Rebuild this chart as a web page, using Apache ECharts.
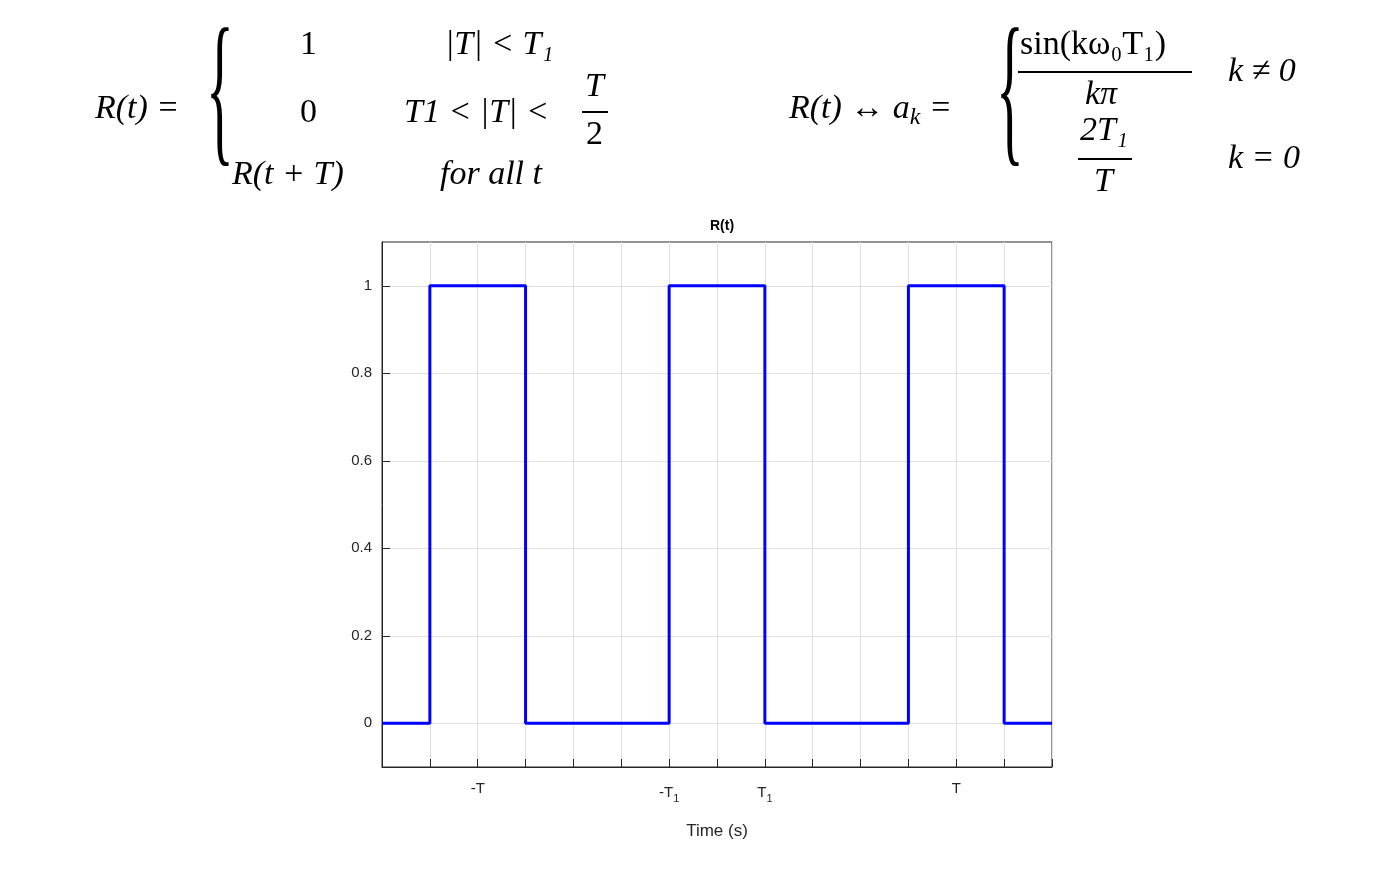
<!DOCTYPE html>
<html><head><meta charset="utf-8">
<script src="https://cdn.jsdelivr.net/npm/echarts@6/dist/echarts.min.js"></script>
<style>html,body{margin:0;background:#fff}#c{width:1388px;height:877px}</style></head>
<body><div id="c"></div>
<script>
const timeEdges=[-7,-6,-4,-1,1,4,6,7];
const levels=[0,1,0,1,0,1,0,0];
const tickLabels={'-5':'-T','-1':'-{t|T}{s|1}','1':'{t|T}{s|1}','5':'T'};
const yTicks=[0,0.2,0.4,0.6,0.8,1];
const chart=echarts.init(document.getElementById('c'));
const F='Liberation Serif';
function t(x,y,txt,size,style,align){return {type:'text',left:x,top:y,style:{text:txt,font:(style||'italic')+' '+(size||34)+'px "'+F+'"',fill:'#000',textAlign:align||'left'}};}
function brace(x){return {type:'text',x:x,y:16,scaleX:1,scaleY:2.9,style:{text:'{',font:'58px "'+F+'"',fill:'#000'}};}
chart.setOption({
animation:false,
title:{text:'R(t)',left:717,top:214,textAlign:'center',textStyle:{fontSize:14,fontWeight:'bold',color:'#000',fontFamily:'Arial'}},
grid:{left:382,top:242,width:670,height:525,show:true,borderColor:'#262626',borderWidth:1},
xAxis:{type:'value',min:-7,max:7,interval:1,name:'Time (s)',nameLocation:'middle',nameGap:56,
 nameTextStyle:{fontSize:17,color:'#262626',fontFamily:'Arial'},
 axisLine:{show:true,onZero:false,lineStyle:{color:'#262626'}},axisTick:{inside:true,length:8,lineStyle:{color:'#262626'}},
 splitLine:{show:true,lineStyle:{color:'#dfdfdf'}},
 axisLabel:{margin:14,color:'#262626',fontSize:15,fontFamily:'Arial',formatter:v=>tickLabels[String(v)]||'',
  rich:{t:{fontSize:15,color:'#262626',fontFamily:'Arial'},s:{fontSize:11,color:'#262626',verticalAlign:'bottom',padding:[12,0,0,0],fontFamily:'Arial'}}}},
yAxis:{type:'value',min:-0.1,max:1.1,
 axisLine:{show:true,onZero:false,lineStyle:{color:'#262626'}},
 axisTick:{inside:true,length:8,customValues:yTicks,lineStyle:{color:'#262626'}},
 splitLine:{show:true,lineStyle:{color:'#dfdfdf'}},
 axisLabel:{color:'#262626',fontSize:15,fontFamily:'Arial',margin:10,customValues:yTicks,formatter:v=>String(+(v.toFixed(1)))}},
series:[{type:'line',step:'end',symbol:'none',data:timeEdges.map((x,i)=>[x,levels[i]]),lineStyle:{color:'#0000ff',width:3}}],
graphic:[
 t(95,92,'R(t) ='),
 brace(206),
 t(300,28,'1',34,'normal','center'), t(300,96,'0',34,'normal','center'), t(232,158,'R(t + T)'),
 t(445,28,'|T| < T₁'),
 t(404,96,'T1 < |T| <'), t(585,70,'T'), {type:'rect',shape:{x:582,y:111,width:26,height:2},style:{fill:'#000'}}, t(586,118,'2',34,'normal'),
 t(440,158,'for all t'),
 {type:'text',left:789,top:92,style:{text:'R(t) ↔ a{k|k} =',font:'italic 34px "'+F+'"',fill:'#000',rich:{k:{font:'italic 24px "'+F+'"',verticalAlign:'bottom',padding:[18,0,0,0]}}}},
 brace(996),
 {type:'text',left:1020,top:28,style:{text:'sin(kω₀T₁)',font:'34px "'+F+'"',fill:'#000'}},
 {type:'rect',shape:{x:1018,y:71,width:174,height:2},style:{fill:'#000'}},
 t(1085,78,'kπ'),
 t(1080,114,'2T₁'),
 {type:'rect',shape:{x:1078,y:158,width:54,height:2},style:{fill:'#000'}},
 t(1094,165,'T'),
 t(1228,55,'k ≠ 0'), t(1228,142,'k = 0')
]});
</script></body></html>
